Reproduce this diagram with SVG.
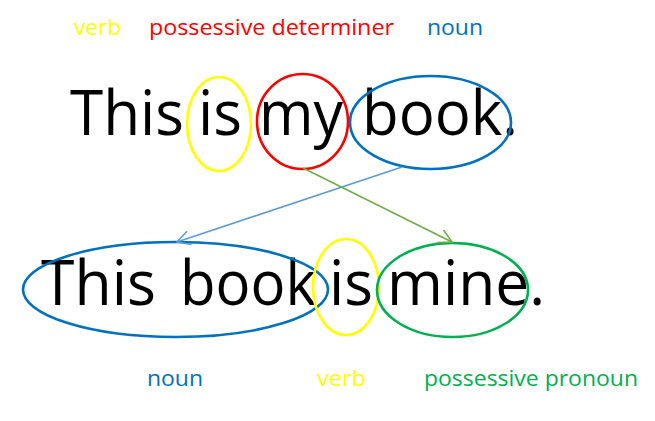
<svg xmlns="http://www.w3.org/2000/svg" width="655" height="421" viewBox="0 0 655 421">
<style>
.big{font-family:"Open Sans","Noto Sans","DejaVu Sans",sans-serif;font-size:63px;fill:#000}
.lab{font-family:"Open Sans","Noto Sans","DejaVu Sans",sans-serif;font-size:21px}
.ell{fill:none;stroke-width:2.6}
.yel{stroke:#FFFF00}.red{stroke:#FF0000}.blu{stroke:#0070C0}.grn{stroke:#00B050}
.conn{fill:none;stroke-width:1.6}
</style>
<defs>
<marker id="ab" markerUnits="userSpaceOnUse" markerWidth="16" markerHeight="16" refX="14" refY="7" orient="auto" overflow="visible">
<path d="M1,0 L14,7 L1,14" fill="none" stroke="#5B9BD5" stroke-width="1.6"/>
</marker>
<marker id="ag" markerUnits="userSpaceOnUse" markerWidth="16" markerHeight="16" refX="14" refY="7" orient="auto" overflow="visible">
<path d="M1,0 L14,7 L1,14" fill="none" stroke="#70AD47" stroke-width="1.6"/>
</marker>
</defs>
<rect width="655" height="421" fill="#fff"/>
<g id="labels-top">
<text class="lab" x="74" y="35" fill="#FFFF00" textLength="47" lengthAdjust="spacingAndGlyphs">verb</text>
<text class="lab" x="149" y="35" fill="#FF0000" textLength="245" lengthAdjust="spacingAndGlyphs">possessive determiner</text>
<text class="lab" x="427" y="35" fill="#0070C0" textLength="56" lengthAdjust="spacingAndGlyphs">noun</text>
</g>
<g id="sentence1">
<text class="big" x="70" y="135" textLength="114" lengthAdjust="spacingAndGlyphs">This</text>
<text class="big" x="198" y="135" textLength="44" lengthAdjust="spacingAndGlyphs">is</text>
<text class="big" x="259" y="135" textLength="84" lengthAdjust="spacingAndGlyphs">my</text>
<text class="big" x="362" y="135" textLength="156" lengthAdjust="spacingAndGlyphs">book.</text>
</g>
<g id="node-is1"><ellipse class="ell yel" cx="219" cy="124" rx="32" ry="47"/></g>
<g id="node-my"><ellipse class="ell red" cx="302.5" cy="121.5" rx="45.5" ry="47.5"/></g>
<g id="node-book1"><ellipse class="ell blu" cx="430.5" cy="122.5" rx="80.5" ry="46.5"/></g>
<g id="sentence2">
<text class="big" x="41" y="305" textLength="115" lengthAdjust="spacingAndGlyphs">This</text>
<text class="big" x="180" y="305" textLength="136" lengthAdjust="spacingAndGlyphs">book</text>
<text class="big" x="329" y="305" textLength="44" lengthAdjust="spacingAndGlyphs">is</text>
<text class="big" x="387" y="305" textLength="158" lengthAdjust="spacingAndGlyphs">mine.</text>
</g>
<g id="node-thisbook"><ellipse class="ell blu" cx="175.5" cy="289.5" rx="152.5" ry="47.5"/></g>
<g id="node-is2"><ellipse class="ell yel" cx="346" cy="287" rx="33" ry="48"/></g>
<g id="node-mine"><ellipse class="ell grn" cx="452.5" cy="290" rx="75.5" ry="47"/></g>
<g id="connectors">
<line class="conn" x1="402" y1="167" x2="177" y2="242" stroke="#5B9BD5" marker-end="url(#ab)"/>
<line class="conn" x1="303" y1="168" x2="452" y2="242" stroke="#70AD47" marker-end="url(#ag)"/>
</g>
<g id="labels-bottom">
<text class="lab" x="147" y="386" fill="#0070C0" textLength="56" lengthAdjust="spacingAndGlyphs">noun</text>
<text class="lab" x="317" y="386" fill="#FFFF00" textLength="49" lengthAdjust="spacingAndGlyphs">verb</text>
<text class="lab" x="424" y="386" fill="#00B050" textLength="214" lengthAdjust="spacingAndGlyphs">possessive pronoun</text>
</g>
</svg>
